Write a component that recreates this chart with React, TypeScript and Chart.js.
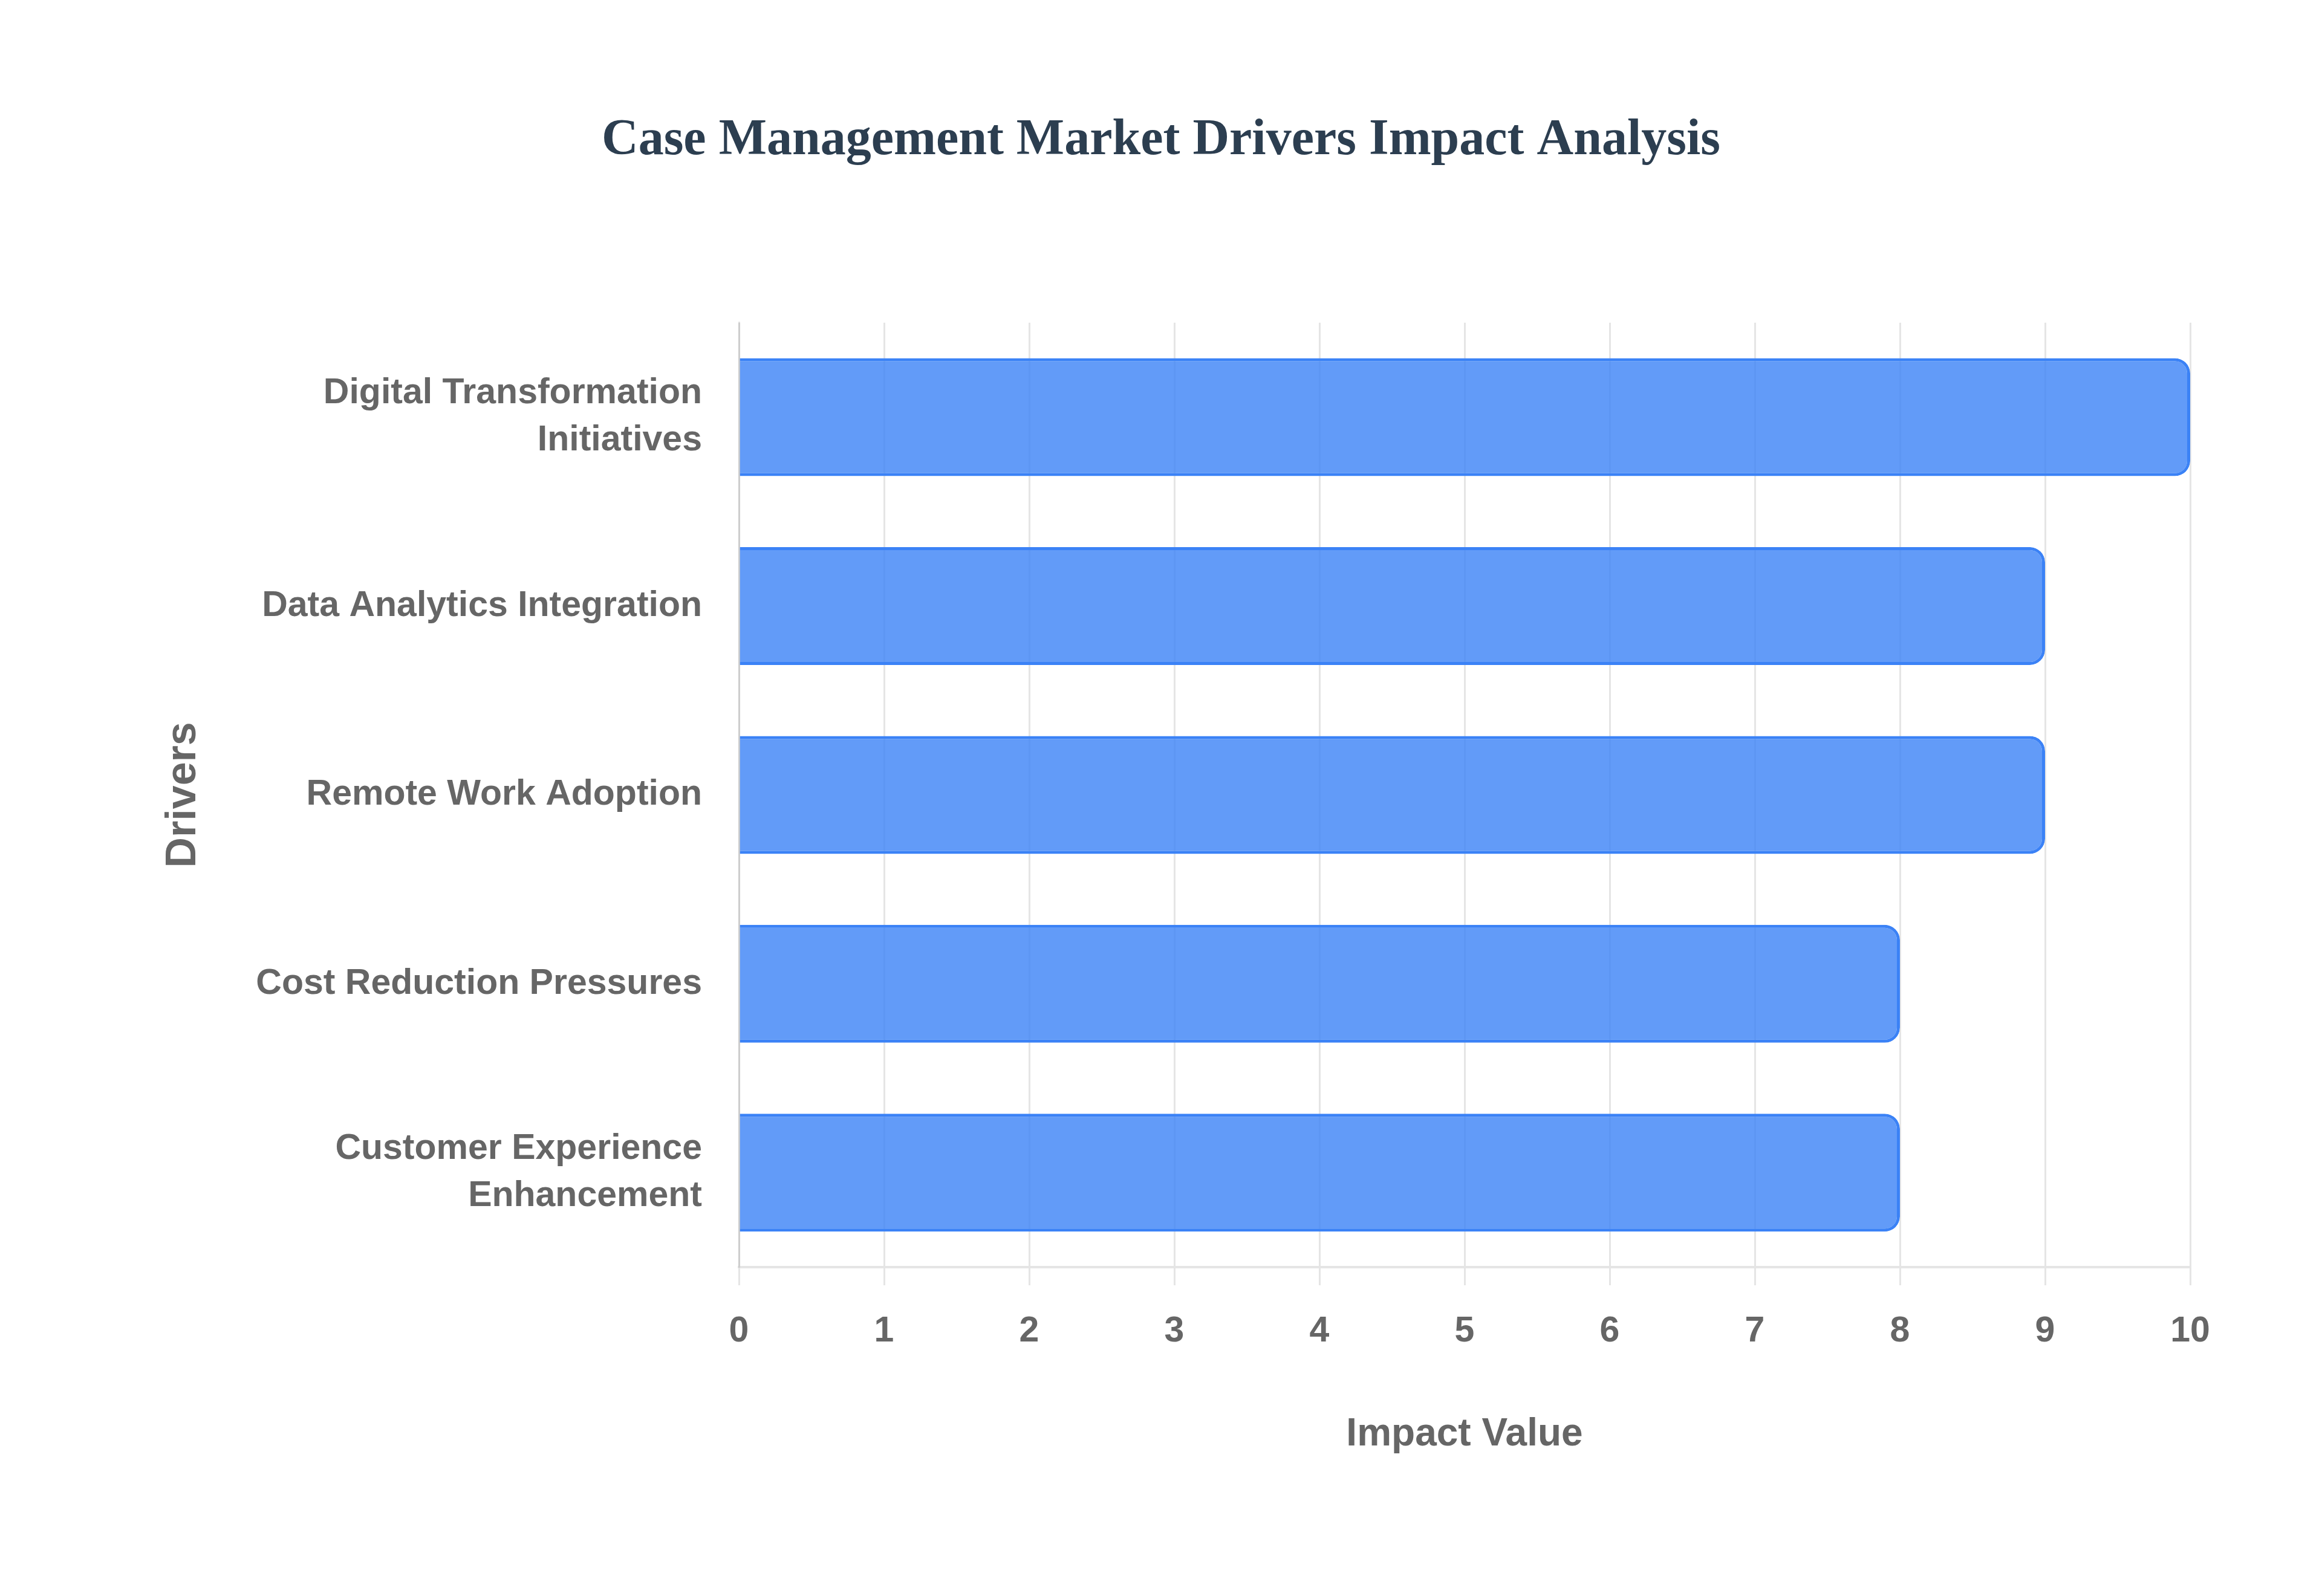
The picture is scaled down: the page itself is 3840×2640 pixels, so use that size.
import { useEffect, useRef } from 'react';
import Chart from 'chart.js/auto';

const drivers: (string | string[])[] = [
    ['Digital Transformation', 'Initiatives'],
    'Data Analytics Integration',
    'Remote Work Adoption',
    'Cost Reduction Pressures',
    ['Customer Experience', 'Enhancement'],
];
const impactValues = [10, 9, 9, 8, 8];
const xTicks = { min: 0, max: 10, step: 1 };

const SANS = "'Liberation Sans', Arial, Helvetica, sans-serif";
const SERIF = "'Liberation Serif', 'Times New Roman', serif";
const GREY = '#666666';

export default function App() {
    const canvasRef = useRef<HTMLCanvasElement>(null);

    useEffect(() => {
        document.body.style.margin = '0';
        document.body.style.overflow = 'hidden';
        if (!canvasRef.current) return;

        const chart = new Chart(canvasRef.current, {
            type: 'bar',
            data: {
                labels: drivers,
                datasets: [{
                    label: 'Impact Value',
                    data: impactValues,
                    backgroundColor: 'rgba(59, 130, 246, 0.8)',
                    borderColor: '#3b82f6',
                    borderWidth: 5,
                    borderRadius: 25,
                    barPercentage: 0.78,
                    categoryPercentage: 0.8,
                }],
            },
            options: {
                indexAxis: 'y',
                responsive: true,
                maintainAspectRatio: false,
                animation: false,
                layout: { padding: { left: 218, right: 218, top: 0, bottom: 0 } },
                plugins: {
                    legend: { display: false },
                    tooltip: { enabled: false },
                    title: {
                        display: true,
                        text: 'Case Management Market Drivers Impact Analysis',
                        color: '#2c3e50',
                        font: { family: SERIF, size: 84, weight: 'bold' },
                        padding: { top: 183, bottom: 250 },
                    },
                },
                scales: {
                    x: {
                        min: xTicks.min,
                        max: xTicks.max,
                        ticks: {
                            stepSize: xTicks.step,
                            color: GREY,
                            padding: 41,
                            font: { family: SANS, size: 59, weight: 'bold' },
                        },
                        grid: {
                            color: 'rgba(0, 0, 0, 0.1)',
                            lineWidth: 3,
                            tickLength: 30,
                        },
                        border: { color: 'rgba(0, 0, 0, 0.1)', width: 4 },
                        title: {
                            display: true,
                            text: 'Impact Value',
                            color: GREY,
                            font: { family: SANS, size: 64, weight: 'bold' },
                            padding: { top: 0, bottom: 228 },
                        },
                        afterFit: (scale: any) => { scale.height = 544; },
                    },
                    y: {
                        ticks: {
                            color: GREY,
                            padding: 61,
                            font: { family: SANS, size: 59, weight: 'bold', lineHeight: 1.32 },
                        },
                        grid: { display: false, drawTicks: false },
                        border: { color: 'rgba(0, 0, 0, 0.1)', width: 3 },
                        title: {
                            display: true,
                            text: 'Drivers',
                            color: GREY,
                            font: { family: SANS, size: 70, weight: 'bold' },
                            padding: { top: 44, bottom: 0 },
                        },
                        afterFit: (scale: any) => { scale.width = 1004; },
                    },
                },
            },
        } as any);

        return () => {
            chart.destroy();
        };
    }, []);

    return (
        <div style={{ width: 3840, height: 2640, position: 'relative', background: '#ffffff' }}>
            <canvas ref={canvasRef}></canvas>
        </div>
    );
}
